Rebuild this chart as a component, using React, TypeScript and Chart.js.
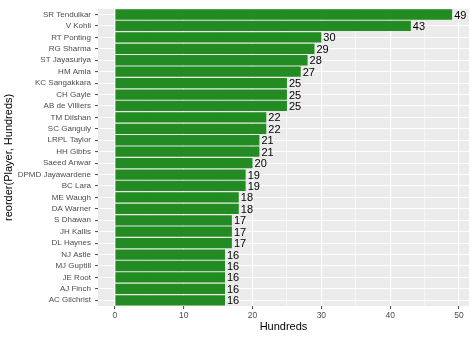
import React, { useEffect, useRef } from "react";
import { Chart, registerables } from "chart.js";

Chart.register(...registerables);

const players = [
  "SR Tendulkar", "V Kohli", "RT Ponting", "RG Sharma", "ST Jayasuriya", "HM Amla",
  "KC Sangakkara", "CH Gayle", "AB de Villiers", "TM Dilshan", "SC Ganguly", "LRPL Taylor",
  "HH Gibbs", "Saeed Anwar", "DPMD Jayawardene", "BC Lara", "ME Waugh", "DA Warner",
  "S Dhawan", "JH Kallis", "DL Haynes", "NJ Astle", "MJ Guptill", "JE Root", "AJ Finch", "AC Gilchrist",
];
const hundreds = [49, 43, 30, 29, 28, 27, 25, 25, 25, 22, 22, 21, 21, 20, 19, 19, 18, 18, 17, 17, 17, 16, 16, 16, 16, 16];
const xTicks = [0, 5, 10, 15, 20, 25, 30, 35, 40, 45, 50];

const FONT = "'Liberation Sans', Arial, sans-serif";

const panelBg = {
  id: "panelBg",
  beforeDraw(chart: any) {
    const { ctx, chartArea: a } = chart;
    ctx.save();
    ctx.fillStyle = "#EBEBEB";
    ctx.fillRect(a.left, a.top, a.right - a.left, a.bottom - a.top);
    ctx.restore();
  },
};

const barLabels = {
  id: "barLabels",
  afterDatasetsDraw(chart: any) {
    const { ctx } = chart;
    const meta = chart.getDatasetMeta(0);
    const data = chart.data.datasets[0].data;
    ctx.save();
    ctx.font = `11px ${FONT}`;
    ctx.fillStyle = "#000000";
    ctx.textAlign = "left";
    ctx.textBaseline = "middle";
    meta.data.forEach((el: any, i: number) => {
      ctx.fillText(String(data[i]), el.x + 2, el.y + 1);
    });
    ctx.restore();
  },
};

export default function App() {
  const ref = useRef<HTMLCanvasElement | null>(null);
  useEffect(() => {
    document.body.style.margin = "0";
    const chart = new Chart(ref.current as HTMLCanvasElement, {
      type: "bar",
      data: {
        labels: players,
        datasets: [
          {
            data: hundreds,
            backgroundColor: "#228B22",
            barPercentage: 0.9,
            categoryPercentage: 1,
          },
        ],
      },
      options: {
        indexAxis: "y",
        responsive: false,
        animation: false,
        layout: { padding: { top: 4, right: 5, left: 0, bottom: 0 } },
        plugins: { legend: { display: false }, tooltip: { enabled: false } },
        scales: {
          x: {
            type: "linear",
            min: -2.45,
            max: 51.45,
            afterBuildTicks: (scale: any) => {
              scale.ticks = xTicks.map((v) => ({ value: v }));
            },
            afterFit: (scale: any) => {
              scale.height = 32;
            },
            border: { display: false },
            grid: {
              color: "#FFFFFF",
              lineWidth: (c: any) => (c.tick && c.tick.value % 10 === 0 ? 1.1 : 0.55),
              tickColor: (c: any) => (c.tick && c.tick.value % 10 === 0 ? "#555555" : "rgba(0,0,0,0)"),
              tickLength: 3,
              drawTicks: true,
            },
            ticks: {
              autoSkip: false,
              maxRotation: 0,
              padding: 2,
              color: "#4D4D4D",
              font: { family: FONT, size: 8.5 },
              callback: (v: any) => (Number(v) % 10 === 0 ? String(v) : ""),
            },
            title: {
              display: true,
              text: "Hundreds",
              color: "#000000",
              font: { family: FONT, size: 11 },
              padding: { top: 0, bottom: 4 },
            },
          },
          y: {
            type: "category",
            offset: true,
            afterFit: (scale: any) => {
              scale.width = 98;
            },
            border: { display: false },
            grid: {
              offset: false,
              color: "#FFFFFF",
              lineWidth: 1.1,
              tickColor: "#555555",
              tickLength: 3,
            },
            ticks: {
              autoSkip: false,
              padding: 4,
              color: "#4D4D4D",
              font: { family: FONT, size: 8 },
            },
            title: {
              display: true,
              text: "reorder(Player, Hundreds)",
              color: "#000000",
              font: { family: FONT, size: 11 },
              padding: { top: 2, bottom: 0 },
            },
          },
        },
      },
      plugins: [panelBg, barLabels],
    });
    return () => chart.destroy();
  }, []);
  return (
    <div style={{ width: 474, height: 338 }}>
      <canvas ref={ref} width={474} height={338} />
    </div>
  );
}
